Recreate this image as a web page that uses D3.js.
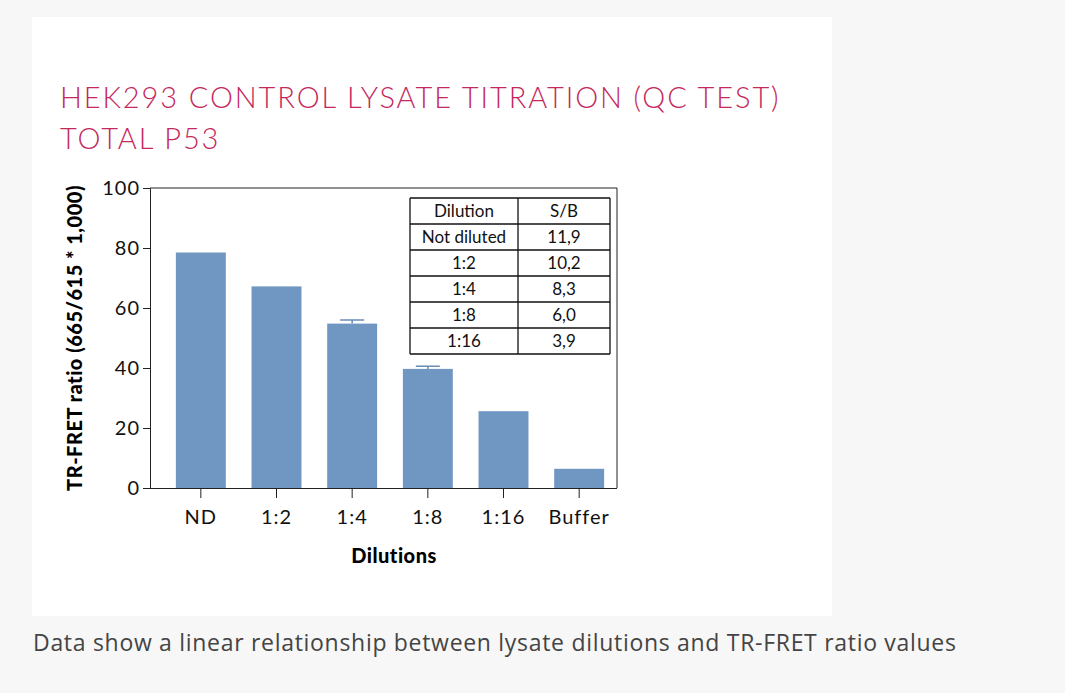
<!DOCTYPE html><html><head><meta charset="utf-8">
<script src="https://cdn.jsdelivr.net/npm/d3@7"></script>
<style>body{margin:0;background:#f7f7f7;font-family:"Open Sans",sans-serif}</style></head><body>
<svg id="c" width="1065" height="693"></svg>
<script>
const categories=["ND","1:2","1:4","1:8","1:16","Buffer"];
const values=[78.5,67.2,54.8,39.7,25.6,6.4];
const errors=[0,0,1.2,0.9,0,0];
const yTicks=[0,20,40,60,80,100];
const tableHead=["Dilution","S/B"];
const tableDil=["Not diluted","1:2","1:4","1:8","1:16"];
const tableSB=["11,9","10,2","8,3","6,0","3,9"];
const svg=d3.select("#c");
svg.append("rect").attr("x",32).attr("y",17).attr("width",800).attr("height",599).attr("fill","#fff");
const tf="Lato, sans-serif";
[["HEK293 CONTROL LYSATE TITRATION (QC TEST)",108],["TOTAL P53",149]].forEach(([t,y])=>
 svg.append("text").attr("x",60).attr("y",y).text(t).attr("fill","#c4285c").attr("font-family",tf).attr("font-weight",300).attr("font-size",29).attr("letter-spacing",1.9));
const x=d3.scaleBand().domain(categories).range([163,617]).paddingInner(0.34).paddingOuter(0.17);
const y=d3.scaleLinear().domain([0,100]).range([488,188]);
const g=svg.append("g");
g.selectAll(".b").data(values).join("rect").attr("x",(d,i)=>x(categories[i])).attr("width",x.bandwidth())
 .attr("y",d=>y(d)).attr("height",d=>488-y(d)).attr("fill","#7096c2");
const eb=categories.map((c,i)=>({c,v:values[i],e:errors[i]})).filter(d=>d.e>0);
g.selectAll(".e").data(eb).join("path")
 .attr("d",d=>{const c=x(d.c)+x.bandwidth()/2,t=y(d.v+d.e);return `M${c},${y(d.v)}V${t}M${c-12},${t}H${c+12}`})
 .attr("stroke","#6a8cb5").attr("stroke-width",1.5).attr("fill","none");
const ya=g.append("g").attr("transform","translate(150,0)").call(d3.axisLeft(y).tickValues(yTicks).tickSize(7).tickPadding(3));
ya.selectAll("text").attr("font-size",20).attr("font-family",tf).attr("letter-spacing",1).attr("fill","#111");
g.append("line").attr("x1",150).attr("x2",617).attr("y1",188).attr("y2",188).attr("stroke","#222");
g.append("line").attr("x1",617).attr("x2",617).attr("y1",188).attr("y2",488).attr("stroke","#222");
const xa=g.append("g").attr("transform","translate(0,488)").call(d3.axisBottom(x).tickSize(10).tickPadding(12));
xa.select(".domain").attr("d","M150,0.5H617");
xa.selectAll("text").attr("font-size",20).attr("font-family",tf).attr("letter-spacing",1).attr("fill","#111");
g.selectAll(".domain,.tick line").attr("stroke","#222");
g.append("text").attr("x",394).attr("y",563).attr("text-anchor","middle").attr("font-family",tf).attr("font-weight",900).attr("font-size",20).attr("letter-spacing",0.5).text("Dilutions");
g.append("text").attr("transform","translate(82,338) rotate(-90)").attr("text-anchor","middle").attr("font-family",tf).attr("font-weight",900).attr("font-size",20).attr("letter-spacing",0.5).text("TR-FRET ratio (665/615 * 1,000)");
const tx=[410,518,610],ty0=198,rh=26;
const rows=[tableHead].concat(tableDil.map((d,i)=>[d,tableSB[i]]));
const tg=svg.append("g").attr("font-family",tf);
tg.append("rect").attr("x",410).attr("y",198).attr("width",200).attr("height",rh*rows.length).attr("fill","#fff");
rows.forEach((r,i)=>{r.forEach((t,j)=>tg.append("text").attr("x",(tx[j]+tx[j+1])/2).attr("y",ty0+rh*i+19).attr("text-anchor","middle").attr("font-size",17).attr("fill","#111").text(t));});
for(let i=0;i<=rows.length;i++)tg.append("line").attr("x1",410).attr("x2",610).attr("y1",ty0+rh*i).attr("y2",ty0+rh*i).attr("stroke","#111").attr("stroke-width",1.3);
tx.forEach(v=>tg.append("line").attr("x1",v).attr("x2",v).attr("y1",ty0).attr("y2",ty0+rh*rows.length).attr("stroke","#111").attr("stroke-width",1.3));
svg.append("text").attr("x",33).attr("y",651).attr("font-size",23).attr("letter-spacing",0.7).attr("fill","#444").text("Data show a linear relationship between lysate dilutions and TR-FRET ratio values");
</script></body></html>
